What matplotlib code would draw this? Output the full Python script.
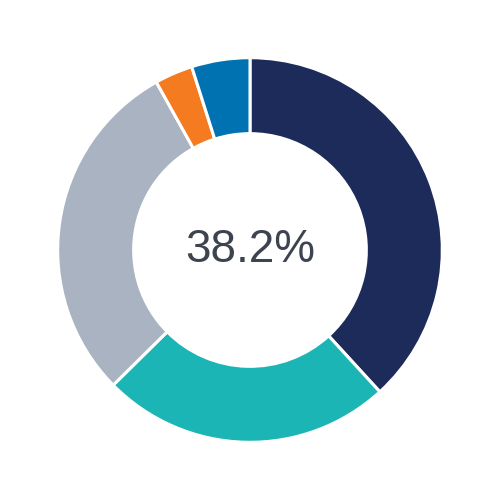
import matplotlib
matplotlib.use("Agg")
import matplotlib.pyplot as plt

labels = ["A", "B", "C", "D", "E"]
values = [38.2, 24.4, 29.3, 3.2, 4.9]
colors = ["#1c2b5a", "#1cb5b5", "#a9b3c1", "#f47b20", "#0072b2"]
center_text = "38.2%"

fig = plt.figure(figsize=(5, 5), dpi=100)
ax = fig.add_axes([0, 0, 1, 1])
ax.pie(values, colors=colors, startangle=90, counterclock=False, radius=1.0,
       wedgeprops=dict(width=0.395, edgecolor="white", linewidth=2.2))
ax.text(0, 0, center_text, ha="center", va="center", fontsize=33,
        color="#3d4450", family=["Liberation Sans", "DejaVu Sans"])
ax.set_xlim(-1.3, 1.3)
ax.set_ylim(-1.3, 1.3)
ax.set_aspect("equal")
ax.axis("off")
fig.savefig("out.png", dpi=100, facecolor="white")
